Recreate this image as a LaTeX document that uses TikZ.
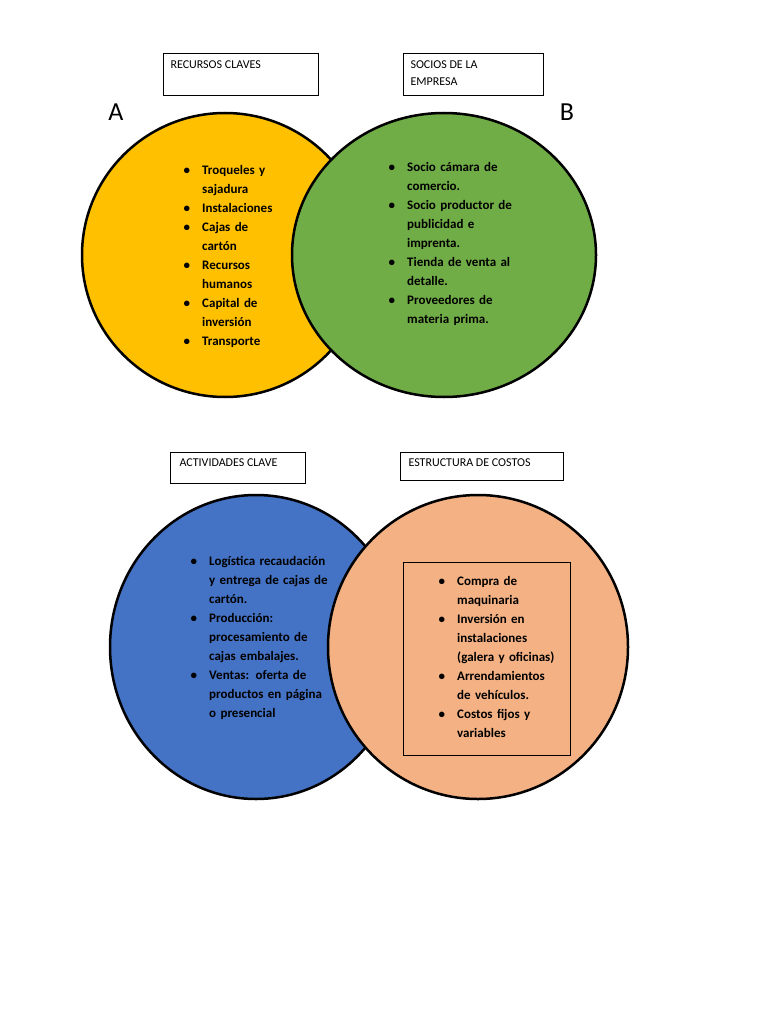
\documentclass[tikz,border=0pt]{standalone}
\usepackage{fontspec}
\setmainfont{Carlito}
\usepackage{enumitem}
\begin{document}
\begin{tikzpicture}[x=1pt,y=-1pt,
  circ/.style={line width=2.5pt,draw=black},
  lbl/.style={draw=black,line width=0.6pt,anchor=north west,align=left,font=\fontsize{12}{17}\selectfont,inner sep=0pt},
  lst/.style={anchor=north west,inner sep=0pt,font=\fontsize{13}{19}\selectfont\bfseries,text width=220pt}]
\useasboundingbox (0,0) rectangle (768,1024);
\fill[white] (0,0) rectangle (768,1024);
\path[circ,fill={rgb,255:red,255;green,192;blue,0}] (225,255) ellipse [x radius=143,y radius=142];
\path[circ,fill={rgb,255:red,112;green,173;blue,71}] (444,255) ellipse [x radius=152,y radius=142];
\path[circ,fill={rgb,255:red,68;green,114;blue,196}] (256,647) ellipse [x radius=146,y radius=152];
\path[circ,fill={rgb,255:red,244;green,177;blue,131}] (478,647) ellipse [x radius=150,y radius=152];
\draw[line width=0.6pt] (403,562) rectangle (570,755);
\draw[line width=0.6pt] (163,53) rectangle (318,95);
\node[anchor=north west,font=\fontsize{12}{17}\selectfont] (rc) at (167,57) {RECURSOS CLAVES};
\draw[line width=0.6pt] (403,53) rectangle (543,95);
\node[anchor=north west,align=left,font=\fontsize{12}{17}\selectfont] (se) at (407,57) {SOCIOS DE LA\\EMPRESA};
\draw[line width=0.6pt] (170,452) rectangle (305,483);
\node[anchor=north west,font=\fontsize{12}{17}\selectfont] (ac) at (176,455) {ACTIVIDADES CLAVE};
\draw[line width=0.6pt] (400,452) rectangle (563,480);
\node[anchor=north west,font=\fontsize{12}{17}\selectfont] (ec) at (405,455) {ESTRUCTURA DE COSTOS};
\node[font=\fontsize{26}{30}\selectfont] (A) at (116,112) {A};
\node[font=\fontsize{26}{30}\selectfont] (B) at (567,112) {B};
\setlist[itemize]{leftmargin=21pt,labelsep=12pt,itemsep=0pt,topsep=0pt,parsep=0pt,partopsep=0pt,label=\textbullet}
\node[lst] (l1) at (181,155) {\begin{itemize}
\item Troqueles y\\sajadura
\item Instalaciones
\item Cajas de\\cartón
\item Recursos\\humanos
\item Capital de\\inversión
\item Transporte
\end{itemize}};
\node[lst] (l2) at (386,152) {\begin{itemize}
\item Socio cámara de\\comercio.
\item Socio productor de\\publicidad e\\imprenta.
\item Tienda de venta al\\detalle.
\item Proveedores de\\materia prima.
\end{itemize}};
\node[lst] (l3) at (188,546) {\begin{itemize}
\item Logística recaudación\\y entrega de cajas de\\cartón.
\item Producción:\\procesamiento de\\cajas embalajes.
\item Ventas: oferta de\\productos en página\\o presencial
\end{itemize}};
\node[lst] (l4) at (436,566) {\begin{itemize}
\item Compra de\\maquinaria
\item Inversión en\\instalaciones\\(galera y oficinas)
\item Arrendamientos\\de vehículos.
\item Costos fijos y\\variables
\end{itemize}};
\end{tikzpicture}
\end{document}
